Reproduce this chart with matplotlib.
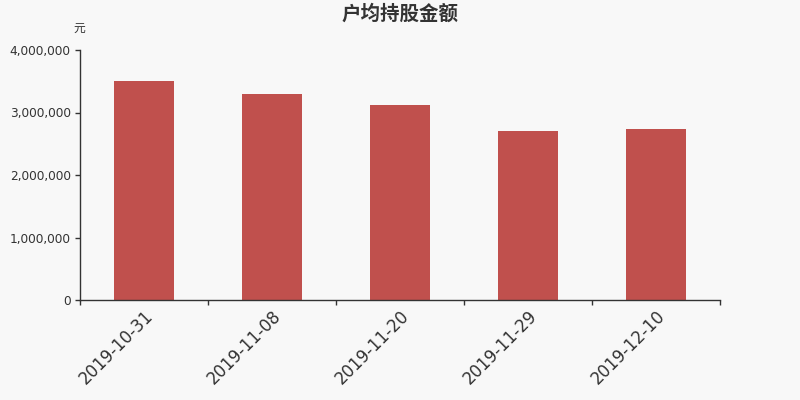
import matplotlib
matplotlib.use("Agg")
import matplotlib.pyplot as plt
from matplotlib.ticker import FuncFormatter, FixedLocator
import numpy as np

plt.rcParams['font.family'] = ['Noto Sans CJK SC', 'DejaVu Sans']

categories = ["2019-10-31", "2019-11-08", "2019-11-20", "2019-11-29", "2019-12-10"]
values = [3509000, 3295000, 3120000, 2709000, 2741000]
yticks = [0, 1000000, 2000000, 3000000, 4000000]
title = "户均持股金额"
unit = "元"

bg = "#f8f8f8"
bar_color = "#c0504d"
text_color = "#333333"

fig = plt.figure(figsize=(8, 4), dpi=100, facecolor=bg)
ax = fig.add_axes([0.1, 0.25, 0.8, 0.625], facecolor=bg)

x = np.arange(len(categories))
ax.bar(x, values, width=0.47, color=bar_color, zorder=2)

ax.set_xlim(-0.5, len(categories) - 0.5)
ax.set_ylim(0, 4000000)
ax.set_yticks(yticks)
ax.yaxis.set_major_formatter(FuncFormatter(lambda v, p: f"{int(v):,}"))

ax.set_xticks(x)
ax.set_xticklabels(categories, rotation=45, ha='right', rotation_mode='anchor',
                   fontsize=12, color=text_color, family=['DejaVu Sans'])
ax.tick_params(axis='x', length=0, pad=5)
ax.xaxis.set_minor_locator(FixedLocator(np.arange(-0.5, len(categories), 1.0)))
ax.tick_params(axis='x', which='minor', length=3.6, color=text_color, width=1)
ax.tick_params(axis='y', length=3.6, pad=3, color=text_color, labelsize=8.7,
               labelcolor=text_color, width=1)
for lbl in ax.get_yticklabels():
    lbl.set_family(['DejaVu Sans'])

for s in ['top', 'right']:
    ax.spines[s].set_visible(False)
for s in ['left', 'bottom']:
    ax.spines[s].set_color(text_color)
    ax.spines[s].set_linewidth(1)

fig.text(0.5, 0.965, title, ha='center', va='center', fontsize=14, fontweight='bold', color=text_color)
fig.text(0.099, 0.93, unit, ha='center', va='center', fontsize=8.5, color=text_color)

fig.savefig("out.png", dpi=100, facecolor=bg)
